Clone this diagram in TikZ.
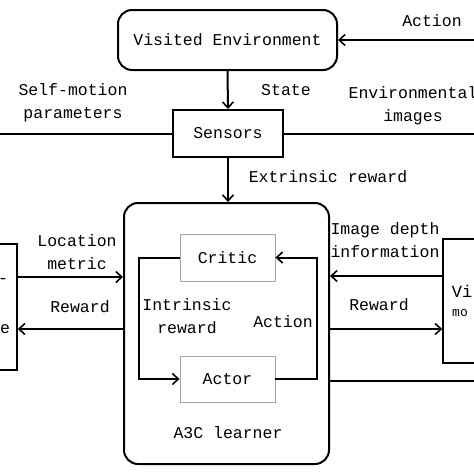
\documentclass[tikz,border=0pt]{standalone}
\usepackage{fontspec}
\setmainfont{Liberation Mono}
\usetikzlibrary{arrows.meta}
\tikzset{
  lbl/.style={inner sep=0pt, align=center, font=\fontsize{16.5}{23}\selectfont},
  blk/.style={draw=black, line width=2pt, inner sep=0pt, font=\fontsize{16.5}{23}\selectfont},
  gbox/.style={draw=black!35, line width=0.9pt, inner sep=0pt, font=\fontsize{16.5}{23}\selectfont},
  conn/.style={line width=2pt},
  arr/.style={conn, -{Straight Barb[length=6pt,width=11pt,line width=1.6pt]}},
}
\begin{document}
\begin{tikzpicture}[x=1pt,y=-1pt]
\useasboundingbox (0,0) rectangle (474,474);
\fill[white] (0,0) rectangle (474,474);
% blocks
\node[blk, rounded corners=14pt, minimum width=219pt, minimum height=60pt] (env) at (227.5,40) {Visited Environment};
\node[blk, minimum width=110pt, minimum height=47pt] (sens) at (228,133.5) {Sensors};
\node[blk, rounded corners=14pt, minimum width=205pt, minimum height=261pt] (a3c) at (226.5,333.5) {};
\node[gbox, minimum width=95pt, minimum height=47pt] (critic) at (227.5,257.5) {Critic};
\node[gbox, minimum width=95pt, minimum height=46pt] (actor) at (227.5,379) {Actor};
\node[draw=black, line width=1.5pt, minimum width=40pt, minimum height=126pt, inner sep=0pt] (lbox) at (-3,307) {};
\node[draw=black, line width=1.5pt, minimum width=60pt, minimum height=124pt, inner sep=0pt] (rbox) at (473,301) {};
\node[lbl] (a3clbl) at (228,433) {A3C learner};
\node[lbl] (ltxt1) at (3,281) {-};
\node[lbl] (ltxt2) at (5,329) {e};
\node[lbl, font=\fontsize{17}{20}\selectfont] (rtxt1) at (462,291) {Vi};
\node[lbl, font=\fontsize{13}{16}\selectfont] (rtxt2) at (460,313) {mo};
% free ends
\coordinate (actin) at (474,40);
\coordinate (sl) at (0,133.5);
\coordinate (sr) at (474,133.5);
\coordinate (aout) at (474,381);
% connectors
\draw[arr] (actin) -- (env.east);
\draw[arr] (env.south) -- (sens.north);
\draw[conn] (sl) -- (sens.west);
\draw[conn] (sens.east) -- (sr);
\draw[arr] (sens.south) -- (sens.south |- a3c.north);
\draw[arr] (critic.west) -- (139,257.5) |- (actor.west);
\draw[arr] (actor.east) -- (317,379) |- (critic.east);
\draw[arr] (lbox.east |- 0,277) -- (a3c.west |- 0,277);
\draw[arr] (a3c.west |- 0,329) -- (lbox.east |- 0,329);
\draw[arr] (rbox.west |- 0,276) -- (a3c.east |- 0,276);
\draw[arr] (a3c.east |- 0,329) -- (rbox.west |- 0,329);
\draw[conn] (a3c.east |- 0,381) -- (aout);
% labels
\node[lbl] (l1) at (432,21) {Action};
\node[lbl] (l2) at (286,90) {State};
\node[lbl] (l3) at (73,103) {Self-motion\\parameters};
\node[lbl] (l4) at (413,106) {Environmental\\images};
\node[lbl] (l5) at (328,177) {Extrinsic reward};
\node[lbl] (l6) at (77,252) {Location\\metric};
\node[lbl] (l7) at (80,307) {Reward};
\node[lbl] (l8) at (187,316) {Intrinsic\\reward};
\node[lbl] (l9) at (283,322) {Action};
\node[lbl] (l10) at (385,240) {Image depth\\information};
\node[lbl] (l11) at (379,305) {Reward};
\end{tikzpicture}
\end{document}
